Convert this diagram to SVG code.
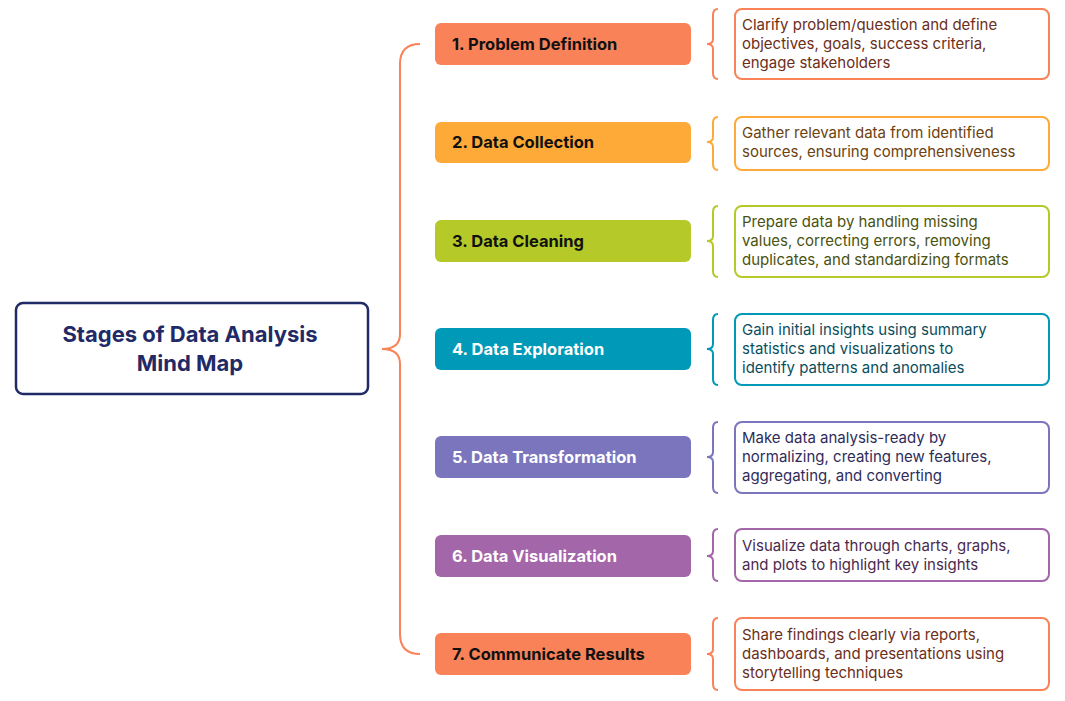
<svg xmlns="http://www.w3.org/2000/svg" width="1065" height="701" viewBox="0 0 1065 701">
<style>
.st{font-family:"Inter","Open Sans",sans-serif;font-weight:700;font-size:16.5px;}
.dt{font-family:"Inter","Open Sans",sans-serif;font-size:15px;}
.br{fill:none;stroke-width:2;}
.db{fill:#fff;stroke-width:2;}
</style>
<rect width="1065" height="701" fill="#fff"/>
<g id="connectors">
<path class="br" stroke="#F98259" stroke-width="2.5" d="M420,44 Q400,44 400,64 V334 Q400,349 382,349 Q400,349 400,364 V634 Q400,654 420,654"/>
<path class="br" stroke="#F98259" d="M718,9 Q713,9 713,15 V39 Q713,44 707,44 Q713,44 713,49 V73 Q713,79 718,79"/>
<path class="br" stroke="#FEAA38" d="M718,117 Q713,117 713,123 V137 Q713,142 707,142 Q713,142 713,147 V164 Q713,170 718,170"/>
<path class="br" stroke="#B5C929" d="M718,206 Q713,206 713,212 V236 Q713,241 707,241 Q713,241 713,246 V271 Q713,277 718,277"/>
<path class="br" stroke="#0099B8" d="M718,314 Q713,314 713,320 V344 Q713,349 707,349 Q713,349 713,354 V379 Q713,385 718,385"/>
<path class="br" stroke="#7A75BD" d="M718,422 Q713,422 713,428 V452 Q713,457 707,457 Q713,457 713,462 V487 Q713,493 718,493"/>
<path class="br" stroke="#A366A8" d="M718,529 Q713,529 713,535 V551 Q713,556 707,556 Q713,556 713,561 V575 Q713,581 718,581"/>
<path class="br" stroke="#F98259" d="M718,618 Q713,618 713,624 V649 Q713,654 707,654 Q713,654 713,659 V684 Q713,690 718,690"/>
</g>
<g id="root">
<rect x="16" y="303" width="352" height="91" rx="7" fill="#fff" stroke="#1F2A66" stroke-width="2.5"/>
<text x="190" y="342" text-anchor="middle" font-family="Inter,'Open Sans',sans-serif" font-weight="700" font-size="22" fill="#1F2A66">Stages of Data Analysis</text>
<text x="190" y="371" text-anchor="middle" font-family="Inter,'Open Sans',sans-serif" font-weight="700" font-size="22" fill="#1F2A66">Mind Map</text>
</g>
<g id="s1"><rect x="435" y="23" width="256" height="42" rx="6" fill="#F98259"/><text class="st" x="452" y="50" fill="#111">1. Problem Definition</text></g>
<g id="s2"><rect x="435" y="122" width="256" height="41" rx="6" fill="#FEAA38"/><text class="st" x="452" y="148" fill="#111">2. Data Collection</text></g>
<g id="s3"><rect x="435" y="220" width="256" height="42" rx="6" fill="#B5C929"/><text class="st" x="452" y="247" fill="#111">3. Data Cleaning</text></g>
<g id="s4"><rect x="435" y="328" width="256" height="42" rx="6" fill="#0099B8"/><text class="st" x="452" y="355" fill="#fff">4. Data Exploration</text></g>
<g id="s5"><rect x="435" y="436" width="256" height="42" rx="6" fill="#7A75BD"/><text class="st" x="452" y="463" fill="#fff">5. Data Transformation</text></g>
<g id="s6"><rect x="435" y="535" width="256" height="42" rx="6" fill="#A366A8"/><text class="st" x="452" y="562" fill="#fff">6. Data Visualization</text></g>
<g id="s7"><rect x="435" y="633" width="256" height="42" rx="6" fill="#F98259"/><text class="st" x="452" y="660" fill="#111">7. Communicate Results</text></g>
<g id="d1"><rect class="db" x="735" y="9" width="314" height="70" rx="7" stroke="#F98259"/><text class="dt" fill="#6B2E1A" x="742"><tspan x="742" y="30">Clarify problem/question and define</tspan><tspan x="742" y="49">objectives, goals, success criteria,</tspan><tspan x="742" y="68">engage stakeholders</tspan></text></g>
<g id="d2"><rect class="db" x="735" y="117" width="314" height="53" rx="7" stroke="#FEAA38"/><text class="dt" fill="#6B4210"><tspan x="742" y="138">Gather relevant data from identified</tspan><tspan x="742" y="157">sources, ensuring comprehensiveness</tspan></text></g>
<g id="d3"><rect class="db" x="735" y="206" width="314" height="71" rx="7" stroke="#B5C929"/><text class="dt" fill="#4A5210"><tspan x="742" y="227">Prepare data by handling missing</tspan><tspan x="742" y="246">values, correcting errors, removing</tspan><tspan x="742" y="265">duplicates, and standardizing formats</tspan></text></g>
<g id="d4"><rect class="db" x="735" y="314" width="314" height="71" rx="7" stroke="#0099B8"/><text class="dt" fill="#0B4E5E"><tspan x="742" y="335">Gain initial insights using summary</tspan><tspan x="742" y="354">statistics and visualizations to</tspan><tspan x="742" y="373">identify patterns and anomalies</tspan></text></g>
<g id="d5"><rect class="db" x="735" y="422" width="314" height="71" rx="7" stroke="#7A75BD"/><text class="dt" fill="#2F2C5A"><tspan x="742" y="443">Make data analysis-ready by</tspan><tspan x="742" y="462">normalizing, creating new features,</tspan><tspan x="742" y="481">aggregating, and converting</tspan></text></g>
<g id="d6"><rect class="db" x="735" y="529" width="314" height="52" rx="7" stroke="#A366A8"/><text class="dt" fill="#4A2A4E"><tspan x="742" y="551">Visualize data through charts, graphs,</tspan><tspan x="742" y="570">and plots to highlight key insights</tspan></text></g>
<g id="d7"><rect class="db" x="735" y="618" width="314" height="72" rx="7" stroke="#F98259"/><text class="dt" fill="#6B2E1A"><tspan x="742" y="640">Share findings clearly via reports,</tspan><tspan x="742" y="659">dashboards, and presentations using</tspan><tspan x="742" y="678">storytelling techniques</tspan></text></g>
</svg>
